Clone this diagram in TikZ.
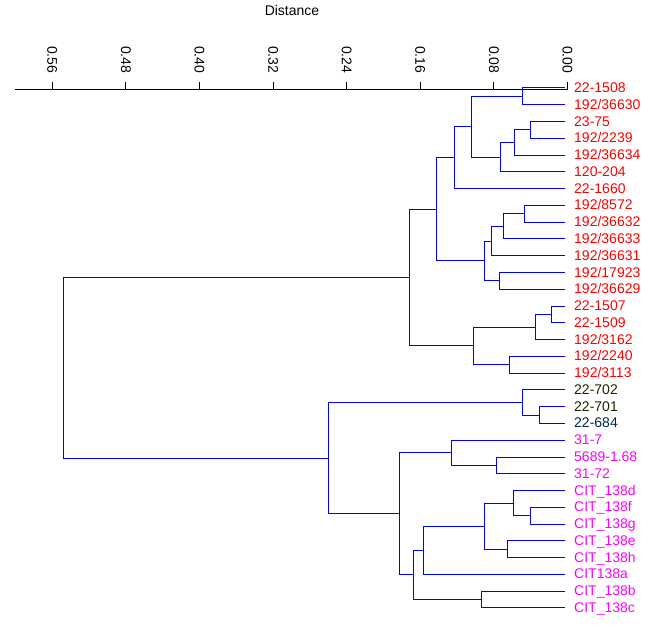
\documentclass[tikz,border=0pt]{standalone}
\usepackage{fontspec}
\setmainfont{Liberation Sans}
\usetikzlibrary{calc}

\definecolor{linkblue}{RGB}{0,0,255}
\definecolor{grpred}{RGB}{255,0,0}
\definecolor{grpgreen}{RGB}{20,40,0}
\definecolor{grpteal}{RGB}{0,40,70}
\definecolor{grpmagenta}{RGB}{255,0,255}

% join two children at a given distance (x in px)
\newcommand\clade[4]{%
  \path let \p1=(#3), \p2=(#4) in (#2pt,{(\y1+\y2)/2}) coordinate (#1);
  \draw[link] (#1) |- (#3) (#1) |- (#4);}

\begin{document}
\begin{tikzpicture}[x=1pt,y=-1pt,
    link/.style={draw=linkblue,line width=1pt},
    leaf/.style={anchor=base west,inner sep=0pt,font=\fontsize{14}{16}\selectfont},
    tick label/.style={rotate=-90,anchor=west,inner sep=0pt,font=\fontsize{14}{16}\selectfont}]

  \useasboundingbox (0,0) rectangle (653,628);

  % axis
  \node[font=\fontsize{14}{16}\selectfont] (title) at (292,11) {Distance};
  \draw[line width=1pt] (15,90) -- (567.5,90);
  \foreach \v [count=\k from 0] in {0.00,0.08,0.16,0.24,0.32,0.40,0.48,0.56} {
    \draw[line width=1pt] ({567.5-\k*73.6},82.5) -- ({567.5-\k*73.6},90);
    \node[tick label] (ax\k) at ({567.5-\k*73.6},46) {\v};
  }

  % leaves
  \foreach \lab/\col [count=\i] in {
      {22-1508}/grpred, {192/36630}/grpred, {23-75}/grpred, {192/2239}/grpred,
      {192/36634}/grpred, {120-204}/grpred, {22-1660}/grpred, {192/8572}/grpred,
      {192/36632}/grpred, {192/36633}/grpred, {192/36631}/grpred, {192/17923}/grpred,
      {192/36629}/grpred, {22-1507}/grpred, {22-1509}/grpred, {192/3162}/grpred,
      {192/2240}/grpred, {192/3113}/grpred, {22-702}/grpgreen, {22-701}/grpgreen,
      {22-684}/grpteal, {31-7}/grpmagenta, {5689-1.68}/grpmagenta, {31-72}/grpmagenta,
      {CIT\_138d}/grpmagenta, {CIT\_138f}/grpmagenta, {CIT\_138g}/grpmagenta,
      {CIT\_138e}/grpmagenta, {CIT\_138h}/grpmagenta, {CIT138a}/grpmagenta,
      {CIT\_138b}/grpmagenta, {CIT\_138c}/grpmagenta} {
    \coordinate (l\i) at (565,{88+(\i-1)*16.774});
    \node[leaf,text=\col] (t\i) at (574,{92.5+(\i-1)*16.774}) {\lab};
  }

  % tree
  \clade{c1}{522.3}{l1}{l2}
  \clade{c2}{530}{l3}{l4}
  \clade{c3}{514.3}{c2}{l5}
  \clade{c4}{500}{c3}{l6}
  \clade{c5}{471}{c1}{c4}
  \clade{c6}{454}{c5}{l7}
  \clade{c7}{524.3}{l8}{l9}
  \clade{c8}{503.3}{c7}{l10}
  \clade{c9}{491.3}{c8}{l11}
  \clade{c10}{499.3}{l12}{l13}
  \clade{c11}{484.3}{c9}{c10}
  \clade{c12}{436}{c6}{c11}
  \clade{c13}{551.7}{l14}{l15}
  \clade{c14}{535.3}{c13}{l16}
  \clade{c15}{509.3}{l17}{l18}
  \clade{c16}{473.3}{c14}{c15}
  \clade{c17}{409}{c12}{c16}
  \clade{c18}{539}{l20}{l21}
  \clade{c19}{522.3}{l19}{c18}
  \clade{c20}{496.3}{l23}{l24}
  \clade{c21}{451.3}{l22}{c20}
  \clade{c22}{530.3}{l26}{l27}
  \clade{c23}{513.7}{l25}{c22}
  \clade{c24}{507.3}{l28}{l29}
  \clade{c25}{484.3}{c23}{c24}
  \clade{c26}{423.3}{c25}{l30}
  \clade{c27}{481.3}{l31}{l32}
  \clade{c28}{413.3}{c26}{c27}
  \clade{c29}{399.3}{c21}{c28}
  \clade{c30}{328.3}{c19}{c29}
  \clade{c31}{63.3}{c17}{c30}
\end{tikzpicture}
\end{document}
